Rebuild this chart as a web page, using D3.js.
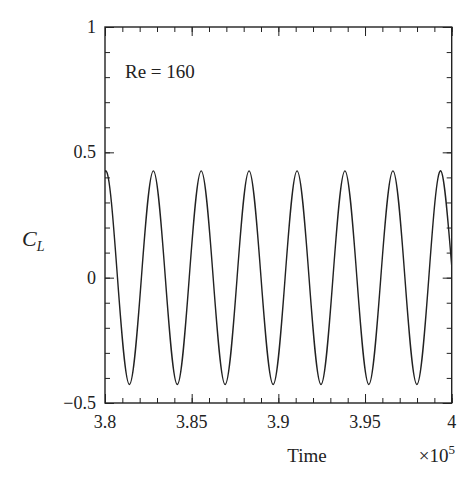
<!DOCTYPE html><html><head><meta charset="utf-8"><script src="https://cdn.jsdelivr.net/npm/d3@7"></script>
<style>body{margin:0;background:#fff}text{font-family:"Liberation Serif",serif;fill:#222}</style></head><body><svg id="c" width="474" height="481"></svg><script>
const times=[3.7865,3.7934,3.8003,3.8072,3.8141,3.8210,3.8279,3.8348,3.8417,3.8486,3.8555,3.8624,3.8693,3.8762,3.8831,3.8900,3.8970,3.9039,3.9108,3.9177,3.9246,3.9315,3.9384,3.9453,3.9522,3.9591,3.9661,3.9730,3.9799,3.9868,3.9937,4.0006,4.0075];
const cl=[-0.426,0,0.426,0,-0.426,0,0.426,0,-0.426,0,0.426,0,-0.426,0,0.426,0,-0.426,0,0.426,0,-0.426,0,0.426,0,-0.426,0,0.426,0,-0.426,0,0.426,0,-0.426];
const xTicks=[3.8,3.85,3.9,3.95,4], xLabels=["3.8","3.85","3.9","3.95","4"];
const yTicks=[-0.5,0,0.5,1], yLabels=["\u22120.5","0","0.5","1"];
const L=105,R=451.7,T=27,B=403;
const x=d3.scaleLinear([3.8,4],[L,R]), y=d3.scaleLinear([-0.5,1],[B,T]);
const svg=d3.select("#c");
const g=svg.append("g");
g.append("defs").append("clipPath").attr("id","cp").append("rect").attr("x",L).attr("y",T).attr("width",R-L).attr("height",B-T);
g.append("path").datum(times.map((t,i)=>[t,cl[i]])).attr("clip-path","url(#cp)")
 .attr("d",d3.line().x(d=>x(d[0])).y(d=>y(d[1])).curve(d3.curveNatural)).attr("fill","none").attr("stroke","#222").attr("stroke-width",1.4);
const minorX=d3.range(0,21).map(i=>3.8+i*0.01), minorY=d3.range(0,16).map(i=>-0.5+i*0.1);
const ax=(axis,tr)=>{const a=svg.append("g").attr("transform",tr).call(axis);a.select(".domain").remove();a.selectAll("line").attr("stroke","#222");a.selectAll("text").remove();};
ax(d3.axisBottom(x).tickValues(minorX).tickSize(-5),`translate(0,${B})`);
ax(d3.axisBottom(x).tickValues(xTicks).tickSize(-9),`translate(0,${B})`);
ax(d3.axisTop(x).tickValues(minorX).tickSize(-5),`translate(0,${T})`);
ax(d3.axisTop(x).tickValues(xTicks).tickSize(-9),`translate(0,${T})`);
ax(d3.axisLeft(y).tickValues(minorY).tickSize(-5),`translate(${L},0)`);
ax(d3.axisLeft(y).tickValues(yTicks).tickSize(-9),`translate(${L},0)`);
ax(d3.axisRight(y).tickValues(minorY).tickSize(-5),`translate(${R},0)`);
ax(d3.axisRight(y).tickValues(yTicks).tickSize(-9),`translate(${R},0)`);
svg.append("rect").attr("x",L).attr("y",T).attr("width",R-L).attr("height",B-T).attr("fill","none").attr("stroke","#222").attr("stroke-width",1.4);
xTicks.forEach((v,i)=>svg.append("text").attr("x",x(v)).attr("y",B+25).attr("text-anchor","middle").attr("font-size",18).text(xLabels[i]));
yTicks.forEach((v,i)=>svg.append("text").attr("x",L-9).attr("y",y(v)+6).attr("text-anchor","end").attr("font-size",18).text(yLabels[i]));
svg.append("text").attr("x",307).attr("y",462).attr("text-anchor","middle").attr("font-size",19).text("Time");
const e=svg.append("text").attr("x",455).attr("y",462).attr("text-anchor","end").attr("font-size",19);
e.append("tspan").text("\u00d710");e.append("tspan").attr("font-size",13).attr("dy",-8).text("5");
const c=svg.append("text").attr("x",22).attr("y",246).attr("font-size",22).attr("font-style","italic");
c.append("tspan").text("C");c.append("tspan").attr("font-size",14).attr("dy",5).text("L");
svg.append("text").attr("x",125).attr("y",78).attr("font-size",19).text("Re = 160");
</script></body></html>
